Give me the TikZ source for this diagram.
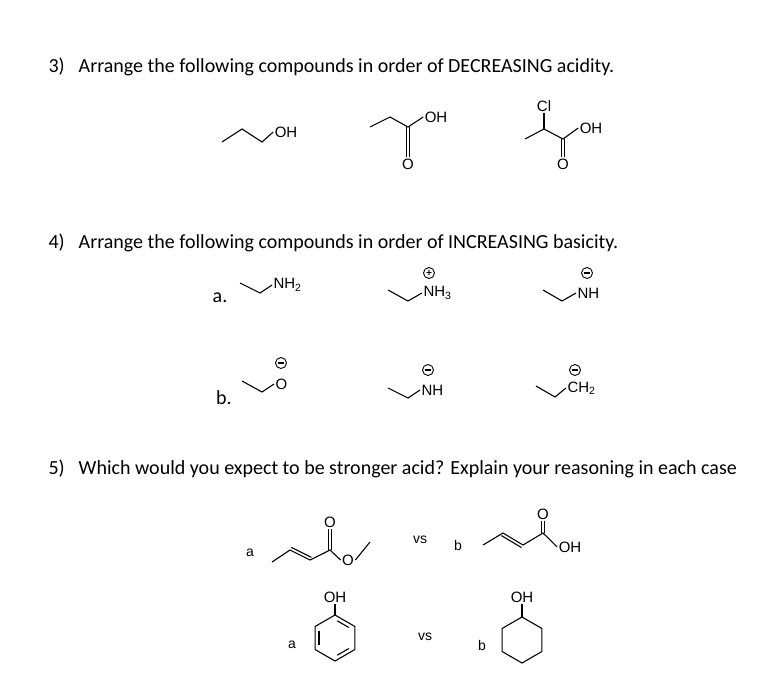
\documentclass[tikz,border=0pt]{standalone}
\usepackage{fontspec}
\usetikzlibrary{calc}
\setmainfont{Carlito}
\newfontfamily\chemf{Liberation Sans}
\begin{document}
\begin{tikzpicture}[x=1pt,y=-1pt,line width=1.1pt,
  title/.style={anchor=base west,font=\fontsize{20}{22}\selectfont,inner sep=0},
  atm/.style={font=\chemf\fontsize{15}{17}\selectfont,inner sep=1pt},
  lab/.style={font=\chemf\fontsize{14}{16}\selectfont,inner sep=0},
  chg/.style={circle,draw,line width=0.9pt,minimum size=11pt,inner sep=0}]
\useasboundingbox (0,0) rectangle (766,678);
\fill[white] (0,0) rectangle (766,678);
% Question 3
\node[title] (q3) at (48,72) {3)\hspace{0.7em}Arrange the following compounds in order of DECREASING acidity.};
\node[atm] (oh1) at (286,132) {OH};
\coordinate (a1) at (222,142); \coordinate (a2) at (242,129); \coordinate (a3) at (262,142);
\draw (a1)--(a2)--(a3)--(oh1.west);
\node[atm] (oh2) at (436,117) {OH};
\node[atm] (o2) at (408,164) {O};
\coordinate (b1) at (370,127); \coordinate (b2) at (390,117); \coordinate (b3) at (408,127);
\draw (b1)--(b2)--(b3)--(oh2.west);
\draw ([xshift=-1.8pt]b3)--([xshift=-1.8pt]o2.north) ([xshift=1.8pt]b3)--([xshift=1.8pt]o2.north);
\node[atm] (cl) at (544,106) {Cl};
\node[atm] (oh3) at (591,128) {OH};
\node[atm] (o3) at (563,164) {O};
\coordinate (c1) at (525,139); \coordinate (c2) at (544,129); \coordinate (c3) at (563,139);
\draw (c1)--(c2)--(c3)--(oh3.west); \draw (c2)--(cl.south);
\draw ([xshift=-1.8pt]c3)--([xshift=-1.8pt]o3.north) ([xshift=1.8pt]c3)--([xshift=1.8pt]o3.north);
% Question 4
\node[title] (q4) at (48,248) {4)\hspace{0.7em}Arrange the following compounds in order of INCREASING basicity.};
\node[title,anchor=center] (la) at (220,298) {a.};
\node[atm,anchor=west] (n1) at (272,285) {NH\textsubscript{2}};
\draw (240,283) coordinate (d1)--(260,293) coordinate (d2)--(n1.west);
\node[atm,anchor=west] (n2) at (422,293) {NH\textsubscript{3}};
\node[chg] (p2) at (429,273) {\fontsize{11}{11}\selectfont\textbf{+}};
\draw (388,290) coordinate (e1)--(408,301) coordinate (e2)--(n2.west);
\node[atm,anchor=west] (n3) at (576,293) {NH};
\node[chg] (m3) at (587,273) {};
\draw (m3.west)++(2.5pt,0)--++(6pt,0);
\draw (543,290) coordinate (f1)--(562,301) coordinate (f2)--(n3.west);
\node[title,anchor=center] (lb) at (224,398) {b.};
\node[atm,anchor=west] (o4) at (274,384) {O};
\node[chg] (m4) at (281,363) {};
\draw (m4.west)++(2.5pt,0)--++(6pt,0);
\draw (242,381) coordinate (g1)--(262,392) coordinate (g2)--(o4.west);
\node[atm,anchor=west] (n5) at (420,390) {NH};
\node[chg] (m5) at (428,370) {};
\draw (m5.west)++(2.5pt,0)--++(6pt,0);
\draw (388,388) coordinate (h1)--(408,398) coordinate (h2)--(n5.west);
\node[atm,anchor=west] (c6) at (566,388) {CH\textsubscript{2}};
\node[chg] (m6) at (575,370) {};
\draw (m6.west)++(2.5pt,0)--++(6pt,0);
\draw (536,386) coordinate (i1)--(555,397) coordinate (i2)--(c6.west);
% Question 5
\node[title] (q5) at (48,474) {5)\hspace{0.7em}Which would you expect to be stronger acid? Explain your reasoning in each case};
\node[lab] (la1) at (250,553) {a};
\coordinate (j1) at (272,562); \coordinate (j2) at (290,550); \coordinate (j3) at (310,560); \coordinate (j4) at (330,550);
\node[atm] (jo) at (330,522) {O};
\node[atm] (jo2) at (348,560) {O};
\coordinate (j5) at (370,542);
\draw (j1)--(j2)--(j3)--(j4)--(jo2.west); \draw (jo2.east)--(j5);
\draw ($(j2)!3pt!90:(j3)$)--($(j3)!3pt!-90:(j2)$);
\draw ([xshift=-1.8pt]j4)--([xshift=-1.8pt]jo.south) ([xshift=1.8pt]j4)--([xshift=1.8pt]jo.south);
\node[lab] (vs1) at (420,540) {vs};
\node[lab] (lb1) at (458,545) {b};
\coordinate (k1) at (483,545); \coordinate (k2) at (503,533); \coordinate (k3) at (523,545); \coordinate (k4) at (543,533);
\node[atm] (ko) at (543,514) {O};
\node[atm] (koh) at (570,547) {OH};
\draw (k1)--(k2)--(k3)--(k4)--(koh.west);
\draw ($(k2)!3pt!-90:(k3)$)--($(k3)!3pt!90:(k2)$);
\draw ([xshift=-1.8pt]k4)--([xshift=-1.8pt]ko.south) ([xshift=1.8pt]k4)--([xshift=1.8pt]ko.south);
% phenol / cyclohexanol
\node[lab] (la2) at (292,645) {a};
\node[atm] (poh) at (335,597) {OH};
\foreach \i in {0,...,5} {
  \coordinate (p\i) at ($(335,638)+({90+60*\i}:23)$);
  \coordinate (r\i) at ($(335,638)+({90+60*\i}:18.5)$);}
\draw (p0)--(p1)--(p2)--(p3)--(p4)--(p5)--cycle;
\draw (p3)--(poh.south);
\foreach \a/\b in {1/2,3/4,5/0}
  \draw ($(r\a)!0.14!(r\b)$)--($(r\b)!0.14!(r\a)$);
\node[lab] (vs2) at (425,637) {vs};
\node[lab] (lb2) at (482,645) {b};
\node[atm] (coh) at (522,597) {OH};
\foreach \i in {0,...,5} \coordinate (q\i) at ($(522,640)+({90+60*\i}:23)$);
\draw (q0)--(q1)--(q2)--(q3)--(q4)--(q5)--cycle;
\draw (q3)--(coh.south);
\end{tikzpicture}
\end{document}
